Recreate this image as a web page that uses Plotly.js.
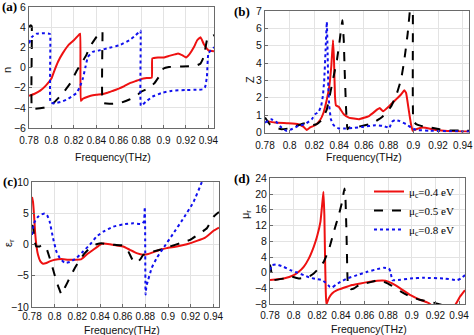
<!DOCTYPE html>
<html>
<head>
<meta charset="utf-8">
<script src="https://cdn.plot.ly/plotly-3.0.1.min.js"></script>
<style>html,body{margin:0;padding:0;background:#fff;}#chart{width:474px;height:335px;}</style>
</head>
<body>
<div id="chart"></div>
<script>
// ---------- shared ----------
const seriesNames = ['μ<sub>c</sub>=0.4 eV', 'μ<sub>c</sub>=0.5 eV', 'μ<sub>c</sub>=0.8 eV'];
const xTickVals = [0.78, 0.80, 0.82, 0.84, 0.86, 0.88, 0.90, 0.92, 0.94];
const xTickText = ['0.78', '0.8', '0.82', '0.84', '0.86', '0.88', '0.9', '0.92', '0.94'];
const xRange = [0.78, 0.945];

// ---------- (a) refractive index n ----------
const nYTicks = [-6, -4, -2, 0, 2, 4, 6];
const nRedF = [0.78,0.785,0.79,0.795,0.80,0.803,0.806,0.81,0.815,0.82,0.825,0.8257,0.8262,0.828,0.83,0.835,0.84,0.845,0.85,0.855,0.86,0.865,0.87,0.875,0.88,0.885,0.8895,0.8900,0.895,0.90,0.905,0.91,0.913,0.917,0.92,0.923,0.927,0.93,0.933,0.936,0.94,0.945];
const nRedV = [-2.8,-2.6,-2.3,-1.8,-1.1,-0.2,0.6,1.4,2.2,2.7,3.3,3.35,-3.3,-3.1,-3.0,-2.8,-2.7,-2.65,-2.5,-2.3,-2.1,-1.85,-1.55,-1.35,-1.15,-1.05,-1.0,0.9,1.0,1.0,1.15,1.3,1.4,1.2,1.0,1.3,2.0,2.7,3.0,2.3,1.7,1.6];
const nBlackF = [0.78,0.7815,0.7824,0.7826,0.7853,0.7927,0.7986,0.803,0.8089,0.8133,0.8178,0.8222,0.8266,0.831,0.834,0.84,0.845,0.8455,0.8458,0.8517,0.8605,0.869,0.875,0.88,0.8856,0.8915,0.896,0.90,0.9048,0.9166,0.9284,0.933,0.9357,0.9387,0.94,0.945];
const nBlackV = [4.0,4.2,4.1,-4.05,-4.1,-4.0,-3.8,-3.4,-2.7,-2.1,-1.4,-0.4,0.4,1.2,2.0,3.0,3.5,3.6,-3.5,-3.6,-3.55,-3.2,-2.9,-2.4,-2.1,-1.6,-0.9,-0.1,0.05,0.1,0.15,0.4,1.0,2.7,3.0,3.2];
const nBlueF = [0.78,0.7824,0.7868,0.7927,0.798,0.7989,0.7992,0.803,0.8089,0.8133,0.8178,0.8222,0.8251,0.828,0.8304,0.8325,0.8369,0.8428,0.8517,0.8605,0.8694,0.8753,0.8788,0.8795,0.8798,0.8841,0.89,0.8989,0.9077,0.9195,0.9313,0.9357,0.9372,0.9387,0.94,0.945];
const nBlueV = [2.4,3.0,3.35,3.4,3.35,3.3,-3.5,-3.55,-3.4,-3.2,-2.9,-2.55,-2.0,-1.1,0.07,1.05,1.55,1.7,1.95,2.2,2.7,3.2,3.6,3.65,-3.8,-3.4,-2.9,-2.5,-2.3,-2.24,-2.2,-2.15,-1.9,-0.9,1.4,2.0];

// ---------- (b) impedance Z ----------
const zYTicks = [0, 1, 2, 3, 4, 5, 6, 7];
const zRedF = [0.7808,0.7879,0.7988,0.8069,0.811,0.8137,0.8165,0.8205,0.8246,0.8273,0.83,0.832,0.8336,0.835,0.8358,0.8366,0.8374,0.8396,0.8437,0.8478,0.856,0.8641,0.8709,0.8728,0.8755,0.8804,0.8859,0.89,0.8927,0.8941,0.8962,0.8981,0.8995,0.9022,0.9077,0.9186,0.9403,0.945];
const zRedV = [0.67,0.57,0.53,0.48,0.34,0.15,0.29,0.42,0.72,1.14,1.9,2.66,3.8,5.32,4.18,2.09,1.56,1.48,1.05,0.86,0.76,0.95,1.33,1.41,1.22,1.52,1.9,2.19,2.43,2.28,1.33,0.48,0.1,0.19,0.29,0.15,0.06,0.06];
const zBlackF = [0.78,0.7838,0.7879,0.7933,0.7988,0.8069,0.8124,0.8178,0.8219,0.826,0.83,0.8328,0.8355,0.8382,0.8401,0.8418,0.8426,0.8437,0.8445,0.8456,0.8467,0.8483,0.8559,0.8586,0.8668,0.875,0.8818,0.8859,0.89,0.8927,0.8954,0.8976,0.8985,0.8995,0.9,0.9022,0.9063,0.913,0.9212,0.9294,0.9403,0.945];
const zBlackV = [0.86,0.48,0.29,0.19,0.23,0.42,0.53,0.42,0.48,0.72,1.33,2.28,3.23,4.18,5.13,6.08,6.46,5.32,3.42,1.33,0.19,0.29,0.34,0.38,0.53,0.91,1.48,2.09,3.04,4.18,5.7,7.3,7.6,7.3,0.67,0.48,0.38,0.29,0.19,0.13,0.1,0.1];
const zBlueF = [0.78,0.7852,0.7893,0.7933,0.7974,0.8015,0.8069,0.8124,0.8178,0.8205,0.8233,0.8254,0.8268,0.8279,0.829,0.83,0.8306,0.8312,0.832,0.8333,0.8355,0.8396,0.845,0.852,0.8586,0.8695,0.875,0.8791,0.8804,0.8826,0.8853,0.8886,0.8941,0.8981,0.9022,0.913,0.9403,0.945];
const zBlueV = [0.57,0.76,0.6,0.29,0.1,0.19,0.38,0.48,0.76,1.05,1.18,1.52,2.1,3.0,4.75,6.37,4.75,2.66,1.52,0.76,0.42,0.23,0.23,0.27,0.32,0.42,0.38,0.29,0.23,0.61,0.72,0.67,0.48,0.29,0.15,0.1,0.06,0.06];

// ---------- (c) permittivity εr ----------
const eYTicks = [-10, -5, 0, 5, 10];
const eRedF = [0.78,0.7809,0.7818,0.7827,0.7838,0.7853,0.7874,0.7897,0.7927,0.7956,0.8001,0.806,0.8119,0.8178,0.8237,0.8281,0.834,0.8399,0.8428,0.8487,0.8546,0.8605,0.8664,0.8723,0.8782,0.8826,0.8871,0.893,0.8989,0.9077,0.9166,0.9254,0.9328,0.9402,0.945];
const eRedV = [7.6,6.8,4.7,2.06,-0.05,-1.64,-2.7,-3.07,-2.96,-2.7,-2.43,-2.33,-2.43,-2.43,-2.33,-1.64,-0.85,-0.05,0.16,0.05,-0.16,-0.32,-0.85,-1.38,-1.64,-1.53,-1.22,-0.85,-0.58,-0.32,0.05,0.58,1.11,2.2,2.7];
const eBlackF = [0.78,0.7809,0.7824,0.7838,0.7868,0.7891,0.7927,0.7956,0.7986,0.8015,0.8045,0.806,0.8089,0.8133,0.8178,0.8222,0.8266,0.8325,0.8369,0.8414,0.8458,0.8531,0.8605,0.865,0.8694,0.8723,0.8753,0.8782,0.8812,0.8871,0.893,0.9018,0.9107,0.9195,0.9284,0.9343,0.9402,0.945];
const eBlackV = [3.1,2.86,0.48,-0.32,-0.32,-0.05,-0.58,-2.17,-4.0,-5.87,-7.35,-8.0,-6.93,-5.34,-3.76,-2.43,-1.38,-0.32,0.05,0.21,0.05,-0.05,-0.16,-1.11,-2.7,-2.96,-2.43,-1.64,-1.53,-1.11,-0.85,-0.32,0.21,0.74,1.8,2.6,4.44,5.2];
const eBlueF = [0.78,0.7809,0.7824,0.7853,0.7883,0.7912,0.7933,0.7956,0.7986,0.8015,0.8045,0.8089,0.8133,0.8192,0.8251,0.831,0.8369,0.8428,0.8517,0.8605,0.8694,0.8767,0.8788,0.8795,0.8798,0.8802,0.881,0.8826,0.8856,0.89,0.8959,0.9048,0.9136,0.9225,0.9299,0.9328];
const eBlueV = [1.53,2.6,3.65,4.44,4.8,4.97,4.7,3.65,1.0,-1.11,-2.17,-2.96,-2.8,-2.17,-1.11,-0.05,1.27,2.06,2.86,3.23,3.39,3.28,3.65,6.0,3.0,-8.0,-6.6,-5.6,-3.76,-2.17,-0.58,1.8,4.18,6.8,10.0,11.6];

// ---------- (d) permeability μr ----------
const mYTicks = [-8, -4, 0, 4, 8, 12, 16, 20, 24];
const mRedF = [0.78,0.7916,0.8001,0.8043,0.8085,0.8128,0.817,0.8198,0.8227,0.8241,0.8252,0.826,0.8266,0.8272,0.8277,0.8297,0.8325,0.8368,0.8424,0.8495,0.8566,0.8636,0.8707,0.8777,0.8834,0.8905,0.8989,0.9074,0.913,0.9159,0.92,0.93,0.937,0.9407,0.945];
const mRedV = [-1.86,-1.44,-0.6,0.25,1.5,3.6,6.6,9.2,13,17.2,20.6,14.7,3.6,-4.8,-8.05,-6.5,-5.25,-4.4,-3.8,-3.1,-2.7,-2.3,-2.0,-2.0,-2.7,-4.0,-5.7,-6.9,-7.5,-8.05,-9.5,-9.5,-8.05,-6.1,-4.4];
const mBlackF = [0.78,0.7803,0.7817,0.7831,0.7916,0.7986,0.8043,0.8085,0.8128,0.817,0.8212,0.8255,0.8297,0.834,0.8382,0.841,0.843,0.8438,0.8447,0.8455,0.8461,0.8481,0.8509,0.8566,0.8636,0.8707,0.8763,0.882,0.8905,0.8989,0.9074,0.9159,0.9243,0.93];
const mBlackV = [1.5,1.9,-1.0,-1.86,-1.44,-1.0,-1.44,-1.27,-1.0,-0.17,1.1,2.8,5.76,10.4,14.7,18,21.4,19.3,10.4,-0.6,-3.6,-4.15,-4.0,-2.8,-2.5,-1.9,-2.3,-3.1,-4.7,-6.1,-6.9,-7.4,-8.05,-9.0];
const mBlueF = [0.78,0.7817,0.7859,0.7916,0.7972,0.8029,0.8085,0.8142,0.8198,0.8241,0.8269,0.8306,0.8325,0.8354,0.8396,0.8453,0.8537,0.8622,0.8707,0.8763,0.8806,0.882,0.8834,0.8876,0.8989,0.9102,0.9272,0.9385,0.9413,0.945];
const mBlueV = [0.68,1.95,2.1,1.5,0.68,0.08,-0.6,-1.27,-1.6,-1.86,-2.46,-3.56,-3.73,-3.1,-2.3,-1.44,-0.6,0.25,0.93,1.27,1.1,0.25,-1.86,-1.86,-1.44,-1.27,-1.44,-1.86,-1.44,-0.6];

// ---------- styles ----------
const colors = ['#ee1111', '#000000', '#1010ee'];
const dashes = ['solid', 'dash', 'dot'];
const widths = [2, 2, 2];

const panels = [
  {xa: 'x',  ya: 'y',  data: [[nRedF,nRedV],[nBlackF,nBlackV],[nBlueF,nBlueV]], legend: false},
  {xa: 'x2', ya: 'y2', data: [[zRedF,zRedV],[zBlackF,zBlackV],[zBlueF,zBlueV]], legend: false},
  {xa: 'x3', ya: 'y3', data: [[eRedF,eRedV],[eBlackF,eBlackV],[eBlueF,eBlueV]], legend: false},
  {xa: 'x4', ya: 'y4', data: [[mRedF,mRedV],[mBlackF,mBlackV],[mBlueF,mBlueV]], legend: true}
];

const traces = [];
panels.forEach(p => {
  p.data.forEach((d, i) => {
    traces.push({
      type: 'scatter', mode: 'lines', x: d[0], y: d[1],
      xaxis: p.xa, yaxis: p.ya, name: seriesNames[i], showlegend: p.legend,
      line: {color: colors[i], dash: dashes[i], width: widths[i], shape: 'spline', smoothing: 0.3},
      hoverinfo: 'skip'
    });
  });
});

const W = 474, H = 335;
function dx(a, b) { return [a / W, b / W]; }
function dy(top, bottom) { return [1 - bottom / H, 1 - top / H]; }

const xTickFont = {family: 'Liberation Sans, Arial, sans-serif', size: 10, color: '#111'};
const yTickFont = {family: 'Liberation Sans, Arial, sans-serif', size: 10.5, color: '#111'};
function xAxis(domain, anchor, standoff) {
  return {domain: domain, anchor: anchor, range: xRange, tickvals: xTickVals, ticktext: xTickText,
    tickangle: 0, automargin: false, ticklabelstandoff: standoff,
    showline: true, mirror: true, linecolor: '#6a6a6a', linewidth: 1, ticks: 'inside', ticklen: 3,
    tickcolor: '#6a6a6a', showgrid: true, gridcolor: '#e3e3e3', gridwidth: 1, zeroline: false,
    tickfont: xTickFont, fixedrange: true};
}
function yAxis(domain, anchor, range, tv) {
  return {domain: domain, anchor: anchor, range: range, tickvals: tv, automargin: false,
    showline: true, mirror: true, linecolor: '#6a6a6a', linewidth: 1, ticks: 'inside', ticklen: 3,
    tickcolor: '#6a6a6a', showgrid: true, gridcolor: '#e3e3e3', gridwidth: 1, zeroline: false,
    tickfont: yTickFont, fixedrange: true};
}

const labFont = {family: 'Liberation Serif, Times New Roman, serif', size: 13, color: '#000'};
const titFont = {family: 'Liberation Sans, Arial, sans-serif', size: 10.5, color: '#111'};
const axFont = {family: 'Liberation Sans, Arial, sans-serif', size: 11, color: '#111'};
function ann(text, px, py, font, opts) {
  return Object.assign({text: text, x: px / W, y: 1 - py / H, xref: 'paper', yref: 'paper',
    showarrow: false, font: font, xanchor: 'center', yanchor: 'middle'}, opts || {});
}

const layout = {
  width: W, height: H, margin: {l: 0, r: 0, t: 0, b: 0},
  paper_bgcolor: '#fff', plot_bgcolor: '#fff', showlegend: true,
  xaxis: xAxis(dx(29, 214), 'y', 3),
  yaxis: yAxis(dy(7, 128), 'x', [-6, 6], nYTicks),
  xaxis2: xAxis(dx(265, 469), 'y2', 3),
  yaxis2: yAxis(dy(11, 132.5), 'x2', [0, 7], zYTicks),
  xaxis3: xAxis(dx(32, 219), 'y3', 0),
  yaxis3: yAxis(dy(182, 307), 'x3', [-10, 10], eYTicks),
  xaxis4: xAxis(dx(270, 465), 'y4', 2),
  yaxis4: yAxis(dy(178.3, 304.3), 'x4', [-8, 24], mYTicks),
  legend: {x: 369 / W, y: 1 - 177 / H, xanchor: 'left', yanchor: 'top', bgcolor: 'rgba(0,0,0,0)',
    borderwidth: 0, font: {family: 'Liberation Serif, Times New Roman, serif', size: 11, color: '#000'},
    tracegroupgap: 0, itemwidth: 30},
  annotations: [
    ann('<b>(a)</b>', 0, 7, labFont, {xanchor: 'left'}),
    ann('<b>(b)</b>', 232, 11, labFont, {xanchor: 'left'}),
    ann('<b>(c)</b>', 1, 182, labFont, {xanchor: 'left'}),
    ann('<b>(d)</b>', 232, 178, labFont, {xanchor: 'left'}),
    ann('n', 7, 70, axFont, {textangle: -90}),
    ann('Z', 250, 80, axFont, {textangle: -90}),
    ann('ε<sub>r</sub>', 9, 243, axFont, {textangle: -90}),
    ann('μ<sub>r</sub>', 246, 215, axFont, {textangle: -90}),
    ann('Frequency(THz)', 113, 157, titFont),
    ann('Frequency(THz)', 364, 157, titFont),
    ann('Frequency(THz)', 122, 329.5, titFont),
    ann('Frequency(THz)', 369, 328.5, titFont)
  ]
};

Plotly.newPlot('chart', traces, layout, {displayModeBar: false, staticPlot: true});
</script>
</body>
</html>
